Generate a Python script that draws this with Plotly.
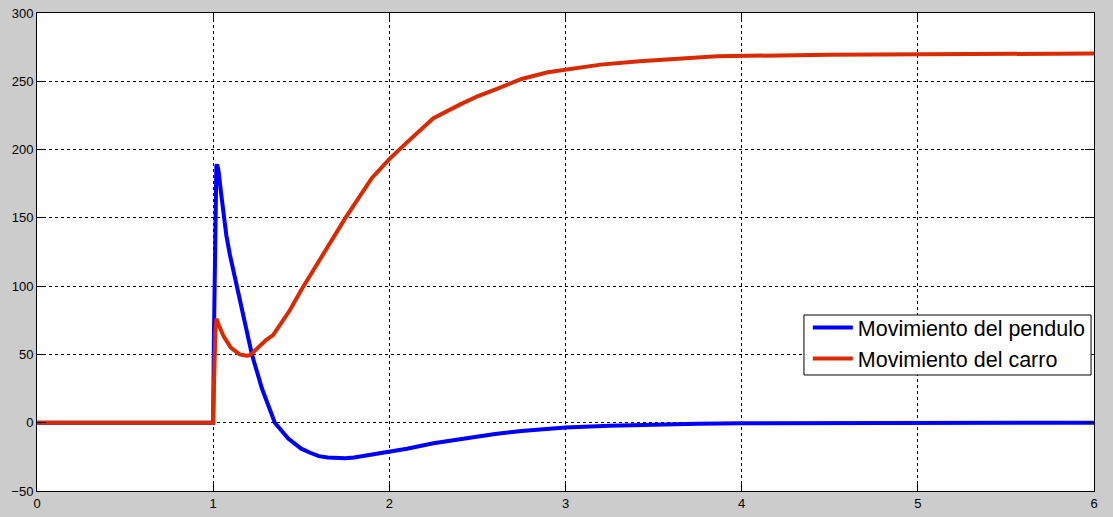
import plotly.graph_objects as go

# Movimiento del pendulo (azul)
t_pendulo = [0, 1.0, 1.004, 1.008, 1.013, 1.018, 1.022, 1.03, 1.045, 1.058, 1.075, 1.095, 1.115,
             1.135, 1.175, 1.22, 1.277, 1.35, 1.426, 1.45, 1.5, 1.55, 1.6, 1.65, 1.7, 1.75,
             1.8, 1.9, 2.0, 2.1, 2.25, 2.4, 2.5, 2.6, 2.75, 2.9, 3.0, 3.25, 3.5,
             3.75, 4.0, 4.47, 4.48, 6.0]
pendulo = [0, 0, 60, 120, 165, 188, 189, 185, 168, 152, 137, 123, 111,
           100, 75, 50, 25, 0, -11.6, -14, -19, -22, -24.5, -25.5, -26, -26,
           -25.5, -23.5, -21, -19, -15, -12, -10, -8.3, -6, -4.5, -3.5, -2.3, -1.3,
           -0.8, -0.4, -0.2, 0, 0]

# Movimiento del carro (rojo)
t_carro = [0, 1.0, 1.004, 1.008, 1.013, 1.018, 1.022, 1.03, 1.06, 1.1, 1.15, 1.19,
           1.21, 1.25, 1.3, 1.34, 1.4, 1.436, 1.5, 1.6, 1.625, 1.75, 1.9, 2.0,
           2.1, 2.25, 2.4, 2.5, 2.6, 2.75, 2.9, 3.0, 3.2, 3.42, 3.6, 3.86, 4.5,
           5.0, 6.0]
carro = [0, 0, 25, 50, 68, 75, 75, 72, 63, 55, 50, 49,
         49.5, 54.4, 60.5, 64.2, 75.2, 82.5, 97.2, 118, 124, 149.8, 179, 193,
         205.3, 223, 232.9, 239, 243.9, 251.7, 256.6, 258.6, 262.2, 264.7, 266.4, 268.3, 269.5,
         270, 270.3]

fig = go.Figure()
fig.add_trace(go.Scatter(x=t_pendulo, y=pendulo, mode="lines", name="Movimiento del pendulo",
                         line=dict(color="#0000ff", width=4)))
fig.add_trace(go.Scatter(x=t_carro, y=carro, mode="lines", name="Movimiento del carro",
                         line=dict(color="#dc2a00", width=4)))

ejes = dict(showline=True, linecolor="black", linewidth=1, mirror="ticks",
            ticks="inside", ticklen=9, tickcolor="black", automargin=False,
            showgrid=True, gridcolor="black", gridwidth=1, griddash="3px,3px",
            zeroline=False, tickfont=dict(family="Liberation Sans", size=13, color="black"))

fig.update_xaxes(range=[0, 6], dtick=1, **ejes)
fig.update_yaxes(range=[-50, 300], dtick=50, **ejes)

# caja blanca de la leyenda (mas ajustada que la de plotly)
fig.add_shape(type="rect", xref="paper", yref="paper",
              x0=0.7256, x1=0.9972, y0=0.2427, y1=0.3682,
              fillcolor="white", line=dict(color="black", width=1), layer="above")

fig.update_layout(
    width=1113, height=517,
    margin=dict(l=37, r=19, t=13, b=26),
    paper_bgcolor="#cccccc", plot_bgcolor="white",
    legend=dict(x=0.997, y=0.385, xanchor="right", yanchor="top",
                bgcolor="rgba(0,0,0,0)", borderwidth=0,
                font=dict(family="Liberation Sans", size=21.5, color="black"),
                itemwidth=40, tracegroupgap=0),
)

fig.write_html("out.html", config={"displayModeBar": False},
               post_script="document.body.style.margin='0';document.body.style.background='#cccccc';")
